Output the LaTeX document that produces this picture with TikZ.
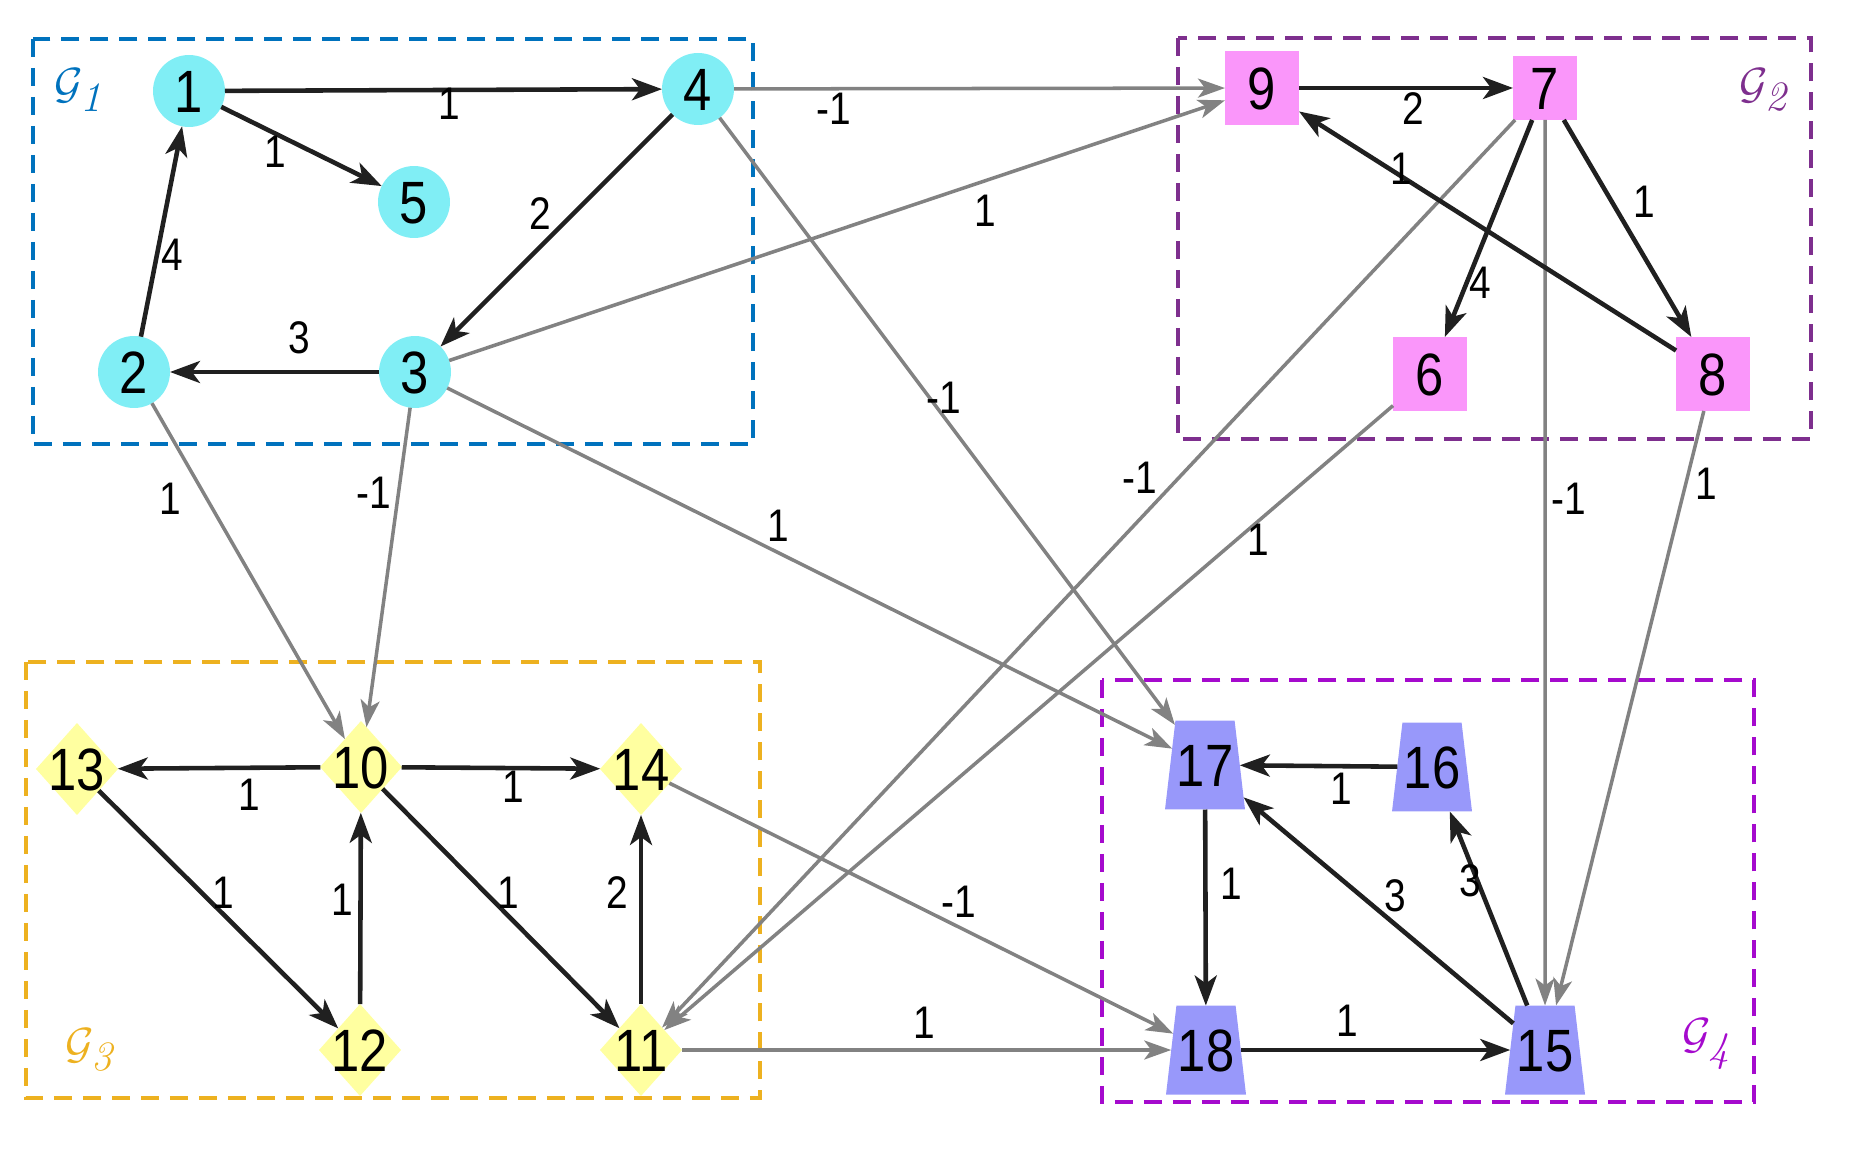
\documentclass[tikz,border=0pt]{standalone}
\usepackage{fontspec}
\newfontfamily\numfont[FakeStretch=0.85]{Liberation Sans}
\usetikzlibrary{shapes.geometric,arrows.meta}
\definecolor{cyanfill}{RGB}{128,238,245}
\definecolor{pinkfill}{RGB}{250,150,250}
\definecolor{yellowfill}{RGB}{255,255,160}
\definecolor{bluefill}{RGB}{152,152,250}
\definecolor{edgeblack}{RGB}{32,32,32}
\definecolor{edgegray}{RGB}{130,130,130}
\definecolor{gonecol}{RGB}{0,114,189}
\definecolor{gtwocol}{RGB}{126,47,142}
\definecolor{gthreecol}{RGB}{237,177,32}
\definecolor{gfourcol}{RGB}{165,10,205}
\newcommand\nl[1]{\makebox[2pt]{\raisebox{-0.358em}[1pt][1pt]{#1}}}
\begin{document}
\begin{tikzpicture}[x=0.02cm,y=-0.02cm,
  base/.style={inner sep=0pt, outer sep=0pt, draw=none, font=\numfont\fontsize{34}{34}\selectfont},
  circn/.style={base, ellipse, fill=cyanfill, minimum width=1.44cm, minimum height=1.44cm},
  sqn/.style={base, rectangle, fill=pinkfill, minimum size=1.48cm},
  sqsmall/.style={sqn, minimum size=1.28cm},
  dian/.style={base, diamond, fill=yellowfill, minimum width=1.64cm, minimum height=1.84cm},
  trpn/.style={base, trapezium, trapezium left angle=80, trapezium right angle=80, trapezium stretches=true, fill=bluefill, minimum width=1.6cm, minimum height=1.78cm},
  blk/.style={draw=edgeblack, line width=2.6pt, -{Stealth[length=0.6cm,width=0.44cm,inset=0.16cm]}},
  gry/.style={draw=edgegray, line width=2pt, -{Stealth[length=0.54cm,width=0.38cm,inset=0.14cm]}},
  lab/.style={inner sep=0pt, font=\numfont\fontsize{26}{26}\selectfont},
  grp/.style={line width=2pt, dash pattern=on 0.36cm off 0.22cm},
  glab/.style={inner sep=0pt, font=\fontsize{34}{34}\selectfont}]
\useasboundingbox (0,0) rectangle (1861,1151);
% group boxes
\draw[grp, gonecol] (33,39) rectangle (753,444);
\draw[grp, gtwocol] (1178,38) rectangle (1811,439);
\draw[grp, gthreecol] (26,662) rectangle (760,1098);
\draw[grp, gfourcol] (1102,680) rectangle (1754,1102);
\node[glab, text=gonecol] (g1) at (78,90) {$\mathcal{G}_{\mathit{1}}$};
\node[glab, text=gtwocol] (g2) at (1763,90) {$\mathcal{G}_{\mathit{2}}$};
\node[glab, text=gthreecol] (g3) at (89,1050) {$\mathcal{G}_{\mathit{3}}$};
\node[glab, text=gfourcol] (g4) at (1706,1044) {$\mathcal{G}_{\mathit{4}}$};
% nodes
\node[circn] (n1) at (189,91) {\nl{1}};
\node[circn] (n4) at (698,89) {\nl{4}};
\node[circn] (n5) at (414,202) {\nl{5}};
\node[circn] (n2) at (134,372) {\nl{2}};
\node[circn] (n3) at (415,372) {\nl{3}};
\node[sqn] (n9) at (1262,88) {\nl{9}};
\node[sqsmall] (n7) at (1545,88) {\nl{7}};
\node[sqn] (n6) at (1430,374) {\nl{6}};
\node[sqn] (n8) at (1713,374) {\nl{8}};
\node[dian] (n10) at (361,767) {\nl{10}};
\node[dian] (n13) at (77,769) {\nl{13}};
\node[dian] (n14) at (641,769) {\nl{14}};
\node[dian] (n12) at (360,1050) {\nl{12}};
\node[dian] (n11) at (641,1050) {\nl{11}};
\node[trpn] (n17) at (1205,765) {\nl{17}};
\node[trpn] (n16) at (1432,767) {\nl{16}};
\node[trpn] (n18) at (1206,1050) {\nl{18}};
\node[trpn] (n15) at (1545,1050) {\nl{15}};
% gray inter-group edges
\draw[gry] (n4) -- (n9);
\draw[gry] (n3) -- (n9);
\draw[gry] (n4) -- (n17);
\draw[gry] (n2) -- (n10);
\draw[gry] (n3) -- (n10);
\draw[gry] (n3) -- (n17);
\draw[gry] (n7) -- (n11);
\draw[gry] (n6) -- (n11);
\draw[gry] (n7) -- (n15);
\draw[gry] (n8) -- (n15);
\draw[gry] (n14) -- (n18);
\draw[gry] (n11) -- (n18);
% black intra-group edges
\draw[blk] (n1) -- (n4);
\draw[blk] (n1) -- (n5);
\draw[blk] (n4) -- (n3);
\draw[blk] (n3) -- (n2);
\draw[blk] (n2) -- (n1);
\draw[blk] (n9) -- (n7);
\draw[blk] (n8) -- (n9);
\draw[blk] (n7) -- (n6);
\draw[blk] (n7) -- (n8);
\draw[blk] (n10) -- (n13);
\draw[blk] (n10) -- (n14);
\draw[blk] (n13) -- (n12);
\draw[blk] (n12) -- (n10);
\draw[blk] (n10) -- (n11);
\draw[blk] (n11) -- (n14);
\draw[blk] (n16) -- (n17);
\draw[blk] (n17) -- (n18);
\draw[blk] (n15) -- (n17);
\draw[blk] (n15) -- (n16);
\draw[blk] (n18) -- (n15);
% edge labels
\node[lab] (l14) at (449,104) {1};
\node[lab] (l15) at (275,152) {1};
\node[lab] (l43) at (540,214) {2};
\node[lab] (l32) at (299,338) {3};
\node[lab] (l21) at (172,255) {4};
\node[lab] (l97) at (1413,109) {2};
\node[lab] (l89) at (1401,169) {1};
\node[lab] (l76) at (1480,283) {4};
\node[lab] (l78) at (1644,202) {1};
\node[lab] (l1013) at (249,795) {1};
\node[lab] (l1014) at (513,787) {1};
\node[lab] (l1312) at (223,893) {1};
\node[lab] (l1210) at (342,900) {1};
\node[lab] (l1011) at (508,893) {1};
\node[lab] (l1114) at (617,893) {2};
\node[lab] (l1617) at (1341,789) {1};
\node[lab] (l1718) at (1231,884) {1};
\node[lab] (l1517) at (1395,896) {3};
\node[lab] (l1516) at (1470,881) {3};
\node[lab] (l1815) at (1347,1021) {1};
\node[lab] (l49) at (834,109) {-1};
\node[lab] (l39) at (985,211) {1};
\node[lab] (l417) at (944,398) {-1};
\node[lab] (l210) at (170,499) {1};
\node[lab] (l310) at (374,493) {-1};
\node[lab] (l317) at (778,526) {1};
\node[lab] (l711) at (1140,478) {-1};
\node[lab] (l611) at (1258,540) {1};
\node[lab] (l715) at (1569,499) {-1};
\node[lab] (l815) at (1706,484) {1};
\node[lab] (l1418) at (959,902) {-1};
\node[lab] (l1118) at (924,1023) {1};
\end{tikzpicture}
\end{document}
